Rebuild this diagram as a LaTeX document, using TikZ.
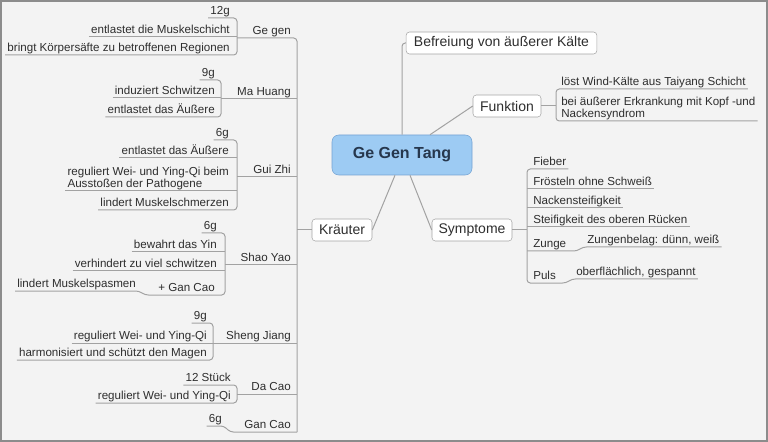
\documentclass[tikz,border=0pt]{standalone}
\usepackage{fontspec}
\setmainfont{Liberation Sans}
\usetikzlibrary{calc}
\definecolor{bgc}{HTML}{F3F3F3}
\definecolor{framec}{HTML}{8C8C8C}
\definecolor{linec}{HTML}{A2A2A2}
\definecolor{boxc}{HTML}{A6A6A6}
\definecolor{txtc}{HTML}{2E2E2E}
\definecolor{ctrfill}{HTML}{9DCBF3}
\definecolor{ctrdraw}{HTML}{74A3D3}
\definecolor{ctrtxt}{HTML}{26374D}
\begin{document}
\begin{tikzpicture}[x=0.75pt,y=-0.75pt,
 lbl/.style={font=\fontsize{8.7}{8.9}\selectfont, text=txtc, inner xsep=1.5pt, inner ysep=2.6pt, text depth=0pt},
 lbll/.style={lbl, anchor=south east},
 lblr/.style={lbl, anchor=south west},
 ln/.style={draw=linec, line width=0.75pt, rounded corners=2.5pt},
 boxn/.style={draw=boxc, fill=white, rounded corners=2.5pt, font=\fontsize{10.5}{12}\selectfont, text=txtc, inner sep=0pt, minimum height=16.5pt},
 ]
\useasboundingbox (0,0) rectangle (768,442);
\fill[bgc] (0,0) rectangle (768,442);
\draw[framec, line width=1.5pt] (0.75,0.75) rectangle (767,440.7);

% central node and main branches
\node[draw=ctrdraw, fill=ctrfill, rounded corners=5pt, minimum width=105pt, minimum height=30pt,
      inner sep=0pt, font=\fontsize{12}{14}\selectfont\bfseries, text=ctrtxt] (cb) at (402,155) {Ge Gen Tang};
\node[boxn, minimum width=143pt] (bf) at (501.5,43) {Befreiung von äußerer Kälte};
\node[boxn, minimum width=51pt] (fk) at (507,106) {Funktion};
\node[boxn, minimum width=60pt] (sy) at (472,230) {Symptome};
\node[boxn, minimum width=45pt] (kr) at (342,230) {Kräuter};

\draw[ln] (cb.north) |- (bf.west);
\draw[ln] ($(cb.north)+(28,0)$) -- (fk.west);
\draw[ln] ($(cb.south)+(8,0)$) -- (sy.west);
\draw[ln] ($(cb.south)+(-7,0)$) -- (kr.east);

% Funktion
\node[lblr] (f1) at (559,89) {löst Wind-Kälte aus Taiyang Schicht};
\node[lblr, align=left] (f2) at (559,121) {bei äußerer Erkrankung mit Kopf -und\\Nackensyndrom};
\coordinate (fb) at (556,106);
\draw[ln] (fk.east) -- (fb);
\draw[ln] (f1.south east) -| (556,121) -- (f2.south east);

% Symptome
\node[lblr] (s1) at (531,169) {Fieber};
\node[lblr] (s2) at (531,189) {Frösteln ohne Schweiß};
\node[lblr] (s3) at (531,208) {Nackensteifigkeit};
\node[lblr] (s4) at (531,227) {Steifigkeit des oberen Rücken};
\node[lblr] (s5) at (531,251) {Zunge};
\node[lblr] (s6) at (531,283) {Puls};
\node[lblr] (z1) at (585,247) {Zungenbelag: dünn, weiß};
\node[lblr] (p1) at (574,279) {oberflächlich, gespannt};
\coordinate (sb) at (527,230);
\draw[ln] (sy.east) -- (sb);
\draw[ln] (s1.south east) -| (527,283) -- (566,283) -- (572,279) -- (p1.south east);
\draw[ln] (527,189) -- (s2.south east);
\draw[ln] (527,208) -- (s3.south east);
\draw[ln] (527,227) -- (s4.south east);
\draw[ln] (527,251) -- (577,251) -- (583,247) -- (z1.south east);

% Kräuter trunk
\coordinate (kb) at (297,230);
\draw[ln] (kr.west) -- (kb);

% Ge gen
\node[lbll] (h1) at (293,38) {Ge gen};
\node[lbll] (g1) at (232,18) {12g};
\node[lbll] (g2) at (232,37) {entlastet die Muskelschicht};
\node[lbll] (g3) at (232,55) {bringt Körpersäfte zu betroffenen Regionen};
\draw[ln] (g1.south west) -| (237,55) -- (g3.south west);
\draw[ln] (g2.south west) -- (237,37);

% Ma Huang
\node[lbll] (h2) at (293,99) {Ma Huang};
\node[lbll] (m1) at (217,80) {9g};
\node[lbll] (m2) at (217,98) {induziert Schwitzen};
\node[lbll] (m3) at (217,117) {entlastet das Äußere};
\draw[ln] (m1.south west) -| (221,117) -- (m3.south west);
\draw[ln] (m2.south west) -- (221,98);

% Gui Zhi
\node[lbll] (h3) at (293,177) {Gui Zhi};
\node[lbll] (u1) at (231,140) {6g};
\node[lbll] (u2) at (231,158) {entlastet das Äußere};
\node[lbll, align=left] (u3) at (231,191) {reguliert Wei- und Ying-Qi beim\\Ausstoßen der Pathogene};
\node[lbll] (u4) at (231,210) {lindert Muskelschmerzen};
\draw[ln] (u1.south west) -| (237,210) -- (u4.south west);
\draw[ln] (u2.south west) -- (237,158);
\draw[ln] (u3.south west) -- (237,191);

% Shao Yao
\node[lbll] (h4) at (293,265) {Shao Yao};
\node[lbll] (y1) at (219,233) {6g};
\node[lbll] (y2) at (219,252) {bewahrt das Yin};
\node[lbll] (y3) at (219,271) {verhindert zu viel schwitzen};
\node[lbll] (y4) at (217,295) {+ Gan Cao};
\node[lblr] (y5) at (15,291) {lindert Muskelspasmen};
\draw[ln] (y1.south west) -| (225,295) -- (145,295) -- (139,291) -- (y5.south west);
\draw[ln] (y2.south west) -- (225,252);
\draw[ln] (y3.south west) -- (225,271);

% Sheng Jiang
\node[lbll] (h5) at (293,343) {Sheng Jiang};
\node[lbll] (j1) at (209,323) {9g};
\node[lbll] (j2) at (209,343) {reguliert Wei- und Ying-Qi};
\node[lbll] (j3) at (209,360) {harmonisiert und schützt den Magen};
\draw[ln] (j1.south west) -| (213,360) -- (j3.south west);
\draw[ln] (j2.south west) -- (213,343);

% Da Cao
\node[lbll] (h6) at (293,394) {Da Cao};
\node[lbll] (d1) at (233,385) {12 Stück};
\node[lbll] (d2) at (233,403) {reguliert Wei- und Ying-Qi};
\draw[ln] (d1.south west) -| (237,403) -- (d2.south west);

% Gan Cao
\node[lbll] (h7) at (293,432) {Gan Cao};
\node[lbll] (c1) at (224,426) {6g};
\draw[ln] (c1.south west) -- (224,426) -- (230,432) -- (297,432);

% herb lines and trunk
\draw[ln] (237,38) -- (297,38) -- (297,432);
\draw[ln] (221,99) -- (297,99);
\draw[ln] (237,177) -- (297,177);
\draw[ln] (225,265) -- (297,265);
\draw[ln] (213,343) -- (297,343);
\draw[ln] (237,394) -- (297,394);
\end{tikzpicture}
\end{document}
